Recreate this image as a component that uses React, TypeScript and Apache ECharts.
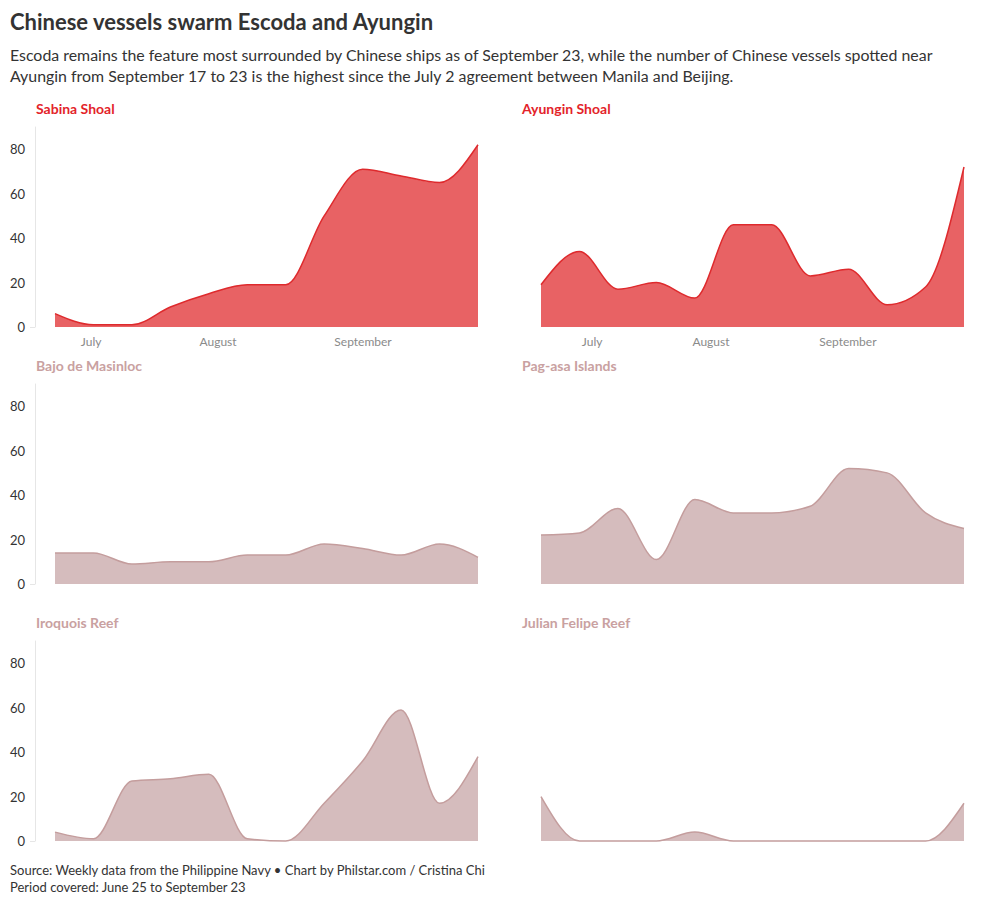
import React, { useEffect, useRef } from "react";
import * as echarts from "echarts";

// Weekly observations, June 25 to September 23 (12 reporting weeks)
const weeks = ["Wk 1", "Wk 2", "Wk 3", "Wk 4", "Wk 5", "Wk 6", "Wk 7", "Wk 8", "Wk 9", "Wk 10", "Wk 11", "Wk 12"];

const sabina = [6, 1, 1, 9, 15, 19, 19, 50, 71, 68, 65, 82];
const ayungin = [19, 34, 17, 20, 13, 46, 46, 23, 26, 10, 18, 72];
const bajo = [14, 14, 9, 10, 10, 13, 13, 18, 16, 13, 18, 12];
const pagasa = [22, 23, 34, 11, 38, 32, 32, 35, 52, 50, 32, 25];
const iroquois = [4, 1, 27, 28, 30, 1, 0, 17, 36, 59, 17, 38];
const julian = [20, 0, 0, 0, 4, 0, 0, 0, 0, 0, 0, 17];

const panelNames = ["Sabina Shoal", "Ayungin Shoal", "Bajo de Masinloc", "Pag-asa Islands", "Iroquois Reef", "Julian Felipe Reef"];
const panelValues = [sabina, ayungin, bajo, pagasa, iroquois, julian];
const highlighted = [true, true, false, false, false, false];

const yTicks = [0, 20, 40, 60, 80];
const monthNames = ["July", "August", "September"];

const TITLE = "Chinese vessels swarm Escoda and Ayungin";
const SUBTITLE_1 = "Escoda remains the feature most surrounded by Chinese ships as of September 23, while the number of Chinese vessels spotted near";
const SUBTITLE_2 = "Ayungin from September 17 to 23 is the highest since the July 2 agreement between Manila and Beijing.";
const SOURCE_1 = "Source: Weekly data from the Philippine Navy \u2022 Chart by Philstar.com / Cristina Chi";
const SOURCE_2 = "Period covered: June 25 to September 23";

const FONT = "Lato, 'Noto Sans', sans-serif";

// Monotone-X cubic (Fritsch-Carlson style, as in d3.curveMonotoneX) in pixel space
function monotonePath(pts: number[][]): string {
  const n = pts.length;
  if (n < 2) return "";
  const sign = (v: number) => (v < 0 ? -1 : 1);
  const t: number[] = new Array(n).fill(0);
  for (let i = 1; i < n - 1; i++) {
    const [x0, y0] = pts[i - 1];
    const [x1, y1] = pts[i];
    const [x2, y2] = pts[i + 1];
    const h0 = x1 - x0;
    const h1 = x2 - x1;
    const s0 = (y1 - y0) / h0;
    const s1 = (y2 - y1) / h1;
    const p = (s0 * h1 + s1 * h0) / (h0 + h1);
    t[i] = (sign(s0) + sign(s1)) * Math.min(Math.abs(s0), Math.abs(s1), 0.5 * Math.abs(p)) || 0;
  }
  const slope2 = (a: number[], b: number[], tt: number) => {
    const h = b[0] - a[0];
    return h ? (3 * (b[1] - a[1]) / h - tt) / 2 : tt;
  };
  if (n === 2) {
    const s = (pts[1][1] - pts[0][1]) / (pts[1][0] - pts[0][0]);
    t[0] = s;
    t[1] = s;
  } else {
    t[0] = slope2(pts[0], pts[1], t[1]);
    t[n - 1] = slope2(pts[n - 2], pts[n - 1], t[n - 2]);
  }
  let d = `M${pts[0][0]},${pts[0][1]}`;
  for (let i = 0; i < n - 1; i++) {
    const [x0, y0] = pts[i];
    const [x1, y1] = pts[i + 1];
    const dx = (x1 - x0) / 3;
    d += ` C${x0 + dx},${y0 + dx * t[i]} ${x1 - dx},${y1 - dx * t[i + 1]} ${x1},${y1}`;
  }
  return d;
}

export default function App() {
  const ref = useRef<HTMLDivElement>(null);

  useEffect(() => {
    if (!ref.current) return;
    const chart = echarts.init(ref.current, undefined, { renderer: "svg" });

    const colLeft = [55, 541];
    const rowTop = [127, 384, 641];
    const gridW = 423;
    const gridH = 200;
    // month label anchor positions (in week-index units) per column
    const monthPos = [
      [0.94, 4.24, 8.01],
      [1.33, 4.42, 7.98],
    ];

    const grids: any[] = [];
    const xAxes: any[] = [];
    const yAxes: any[] = [];
    const series: any[] = [];
    const graphics: any[] = [];

    panelNames.forEach((name, idx) => {
      const col = idx % 2;
      const row = Math.floor(idx / 2);
      const hi = highlighted[idx];
      const fill = hi ? "#e86264" : "#d5bcbd";
      const line = hi ? "#de2a2d" : "#c49d9d";
      const titleColor = hi ? "#e3232a" : "#c9a1a1";
      const values = panelValues[idx];
      grids.push({ left: colLeft[col], top: rowTop[row], width: gridW, height: gridH });
      const showMonths = row === 0;
      xAxes.push({
        type: "value",
        gridIndex: idx,
        min: 0,
        max: weeks.length - 1,
        axisLine: { show: false },
        axisTick: { show: false },
        splitLine: { show: false },
        axisLabel: {
          show: showMonths,
          customValues: monthPos[col],
          formatter: (v: number) => {
            const k = monthPos[col].findIndex((p) => Math.abs(p - v) < 1e-6);
            return k >= 0 ? monthNames[k] : "";
          },
          color: "#8a8a8a",
          fontSize: 12,
          fontFamily: FONT,
          margin: 8,
        },
      });
      yAxes.push({
        type: "value",
        gridIndex: idx,
        min: 0,
        max: 90,
        interval: 20,
        offset: 20,
        axisLine: { show: col === 0, onZero: false, lineStyle: { color: "#e6e6e6", width: 1 } },
        axisTick: { show: col === 0, customValues: [0], length: 5, lineStyle: { color: "#e6e6e6" } },
        splitLine: { show: false },
        axisLabel: {
          show: col === 0,
          customValues: yTicks,
          color: "#333333",
          fontSize: 13,
          fontFamily: FONT,
          margin: 10,
        },
      });
      series.push({
        type: "custom",
        xAxisIndex: idx,
        yAxisIndex: idx,
        silent: true,
        clip: false,
        data: values.map((v, i) => [i, v]),
        encode: { x: 0, y: 1 },
        renderItem: (params: any, api: any) => {
          if (params.dataIndex !== 0) return null;
          const pts = values.map((v, i) => api.coord([i, v]));
          const base = api.coord([0, 0])[1];
          const linePath = monotonePath(pts);
          const areaPath = `${linePath} L${pts[pts.length - 1][0]},${base} L${pts[0][0]},${base} Z`;
          return {
            type: "group",
            children: [
              { type: "path", shape: { pathData: areaPath }, style: { fill, stroke: null } },
              { type: "path", shape: { pathData: linePath }, style: { fill: null, stroke: line, lineWidth: 1.5 } },
            ],
          };
        },
      });
      graphics.push({
        type: "text",
        left: col === 0 ? 36 : 522,
        top: rowTop[row] - 26,
        style: { text: name, fill: titleColor, font: `bold 14px ${FONT}` },
      });
    });

    graphics.push(
      { type: "text", left: 10, top: 10, style: { text: TITLE, fill: "#333333", font: `bold 22px ${FONT}` } },
      { type: "text", left: 10, top: 46, style: { text: SUBTITLE_1, fill: "#333333", font: `15.9px ${FONT}` } },
      { type: "text", left: 10, top: 67, style: { text: SUBTITLE_2, fill: "#333333", font: `15.9px ${FONT}` } },
      { type: "text", left: 10, top: 863, style: { text: SOURCE_1, fill: "#333333", font: `13px ${FONT}` } },
      { type: "text", left: 10, top: 880, style: { text: SOURCE_2, fill: "#333333", font: `13px ${FONT}` } }
    );

    chart.setOption({
      animation: false,
      backgroundColor: "#ffffff",
      grid: grids,
      xAxis: xAxes,
      yAxis: yAxes,
      series,
      graphic: graphics,
    });

    return () => chart.dispose();
  }, []);

  return <div ref={ref} style={{ position: "absolute", left: 0, top: 0, width: 998, height: 907 }} />;
}
